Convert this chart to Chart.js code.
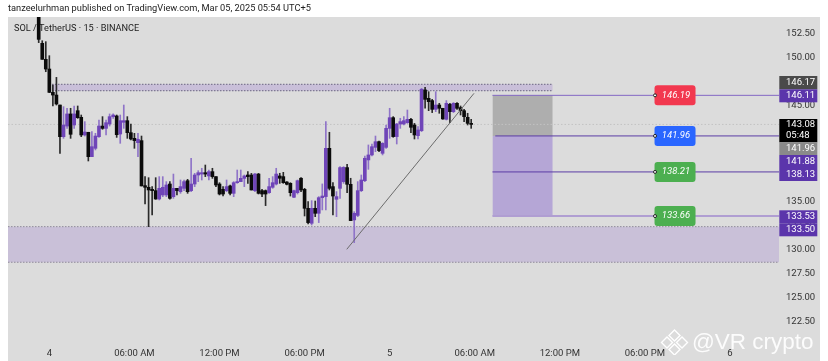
<!DOCTYPE html>
<html>
<head>
<meta charset="utf-8">
<title>SOL / TetherUS</title>
<script src="https://cdn.jsdelivr.net/npm/chart.js@4/dist/chart.umd.min.js"></script>
<style>
    html, body { margin: 0; padding: 0; background: #fff; overflow: hidden; }
    #wrap { position: relative; width: 828px; height: 361px; }
    #chart { position: absolute; left: 0; top: 0; }
    #publisher { position: absolute; left: 8px; top: 1px; font: 9.25px/14px Roboto, sans-serif; color: #222; white-space: nowrap; }
    #watermark { position: absolute; left: 692px; top: 327px; font: 22.5px/30px "Liberation Sans", sans-serif; color: rgba(255,255,255,0.9); white-space: nowrap; }
    #logo { position: absolute; left: 660px; top: 329px; }
</style>
</head>
<body>
<div id="wrap">
    <canvas id="chart" width="828" height="361"></canvas>
    <div id="publisher">tanzeelurhman published on TradingView.com, Mar 05, 2025 05:54 UTC+5</div>
    <svg id="logo" width="29" height="26" viewBox="0 0 29 26" fill="none" stroke="#fff" stroke-width="1.4">
        <path d="M14.5 1 L20 6.5 L14.5 12 L9 6.5 Z"/>
        <path d="M7 8 L12.5 13.5 L7 19 L1.5 13.5 Z"/>
        <path d="M22 8 L27.5 13.5 L22 19 L16.5 13.5 Z"/>
        <path d="M14.5 15 L20 20.5 L14.5 26 L9 20.5 Z"/>
    </svg>
    <div id="watermark">@VR crypto</div>
</div>
<script>
const chartLegend = 'SOL / TetherUS · 15 · BINANCE';

const candleOpens = [155.0,151.53,149.86,148.85,146.42,146.14,145.10,141.80,142.91,144.17,143.02,144.51,143.82,141.98,142.26,139.72,140.59,141.80,142.91,142.67,143.12,143.89,143.96,142.08,143.30,143.47,142.22,141.63,141.18,141.39,
    136.70,136.53,136.32,136.18,135.31,135.73,135.73,136.87,135.55,136.42,136.07,136.42,137.22,136.18,136.87,137.81,137.91,138.05,137.71,138.16,137.64,136.87,136.32,136.18,136.67,135.90,137.01,137.12,137.46,137.81,
    137.81,136.18,137.91,136.18,136.18,135.97,136.53,136.87,137.71,137.64,137.08,136.94,135.49,135.97,137.47,136.32,134.34,132.78,134.34,133.82,135.45,135.56,140.59,136.60,135.28,136.42,137.12,138.58,136.84,133.13,
    133.60,136.18,137.22,139.38,139.90,140.69,141.28,140.07,140.69,142.67,143.78,141.81,143.12,143.12,143.26,143.61,143.02,141.91,142.43,146.67,145.80,145.56,144.65,145.10,144.76,143.61,145.17,144.41,145.28,144.83,
    144.51,143.82,143.19];
const candleCloses = [151.94,149.86,148.85,146.42,146.14,145.21,141.80,143.02,144.17,142.05,144.17,143.78,141.98,142.29,139.72,140.76,141.87,142.91,142.67,143.26,143.89,144.06,142.01,143.47,143.47,142.22,141.56,141.39,141.53,136.67,
    136.53,136.25,136.18,135.31,136.42,136.53,136.77,135.38,136.42,136.18,136.60,137.12,136.07,136.87,137.81,138.05,138.05,137.91,138.16,137.64,136.77,135.83,135.83,136.60,135.90,137.01,137.12,137.46,137.71,137.64,
    136.25,137.91,135.90,135.83,135.83,136.60,137.01,137.91,137.47,137.01,136.84,135.97,136.18,137.22,136.25,134.34,132.85,134.34,133.82,135.45,135.62,140.59,136.42,135.62,135.56,138.58,138.61,136.84,133.06,133.82,
    136.18,137.29,139.55,139.90,140.76,141.28,140.35,141.11,142.67,143.78,141.81,143.12,143.37,143.47,143.61,142.78,141.98,142.50,146.74,145.69,145.45,144.65,145.10,144.76,143.65,145.28,144.41,145.28,144.76,144.51,
    143.89,143.19,143.08];
const candleHighs = [155.2,151.80,151.70,150.24,147.19,147.98,145.10,144.93,144.76,144.76,145.00,145.00,144.06,143.37,142.26,142.33,142.15,143.54,143.89,143.54,144.17,144.17,144.06,144.06,145.10,143.89,143.12,142.15,142.15,141.87,
    137.64,137.53,136.60,137.53,137.64,137.64,137.12,137.12,137.91,136.42,137.29,137.29,137.36,139.55,137.98,138.26,138.51,138.85,138.33,138.51,137.64,137.01,136.60,137.29,136.77,137.12,138.33,138.33,137.81,138.16,
    137.98,137.98,137.98,136.32,136.25,137.46,137.64,138.51,137.99,138.09,137.12,137.01,136.25,137.29,137.53,136.42,135.03,135.14,135.10,135.56,136.88,143.37,142.26,137.01,136.08,138.68,138.68,138.92,137.47,133.99,
    137.12,137.81,139.79,140.94,141.04,141.87,141.35,141.18,143.02,144.76,143.89,143.19,143.72,143.89,144.58,143.72,143.19,142.85,146.84,146.94,146.49,145.69,146.49,145.28,144.76,145.56,145.28,145.35,145.35,145.00,
    144.65,144.24,143.61];
const candleLows = [151.60,149.86,148.57,146.39,145.00,145.10,140.07,141.63,142.67,141.63,142.67,143.71,141.80,141.87,139.27,139.72,140.42,141.73,142.57,141.98,142.91,143.71,141.73,141.11,142.67,141.63,141.46,140.59,139.72,136.67,
    134.79,132.43,133.64,135.28,135.21,135.55,135.55,135.28,135.38,135.73,135.90,136.18,135.90,136.07,136.60,137.12,137.29,137.64,137.29,137.46,136.60,135.73,135.62,136.07,135.73,135.55,136.94,137.12,136.60,136.94,
    136.25,136.07,135.83,135.55,134.62,135.90,136.42,136.77,136.94,136.94,136.77,135.62,135.45,135.83,136.08,133.54,132.71,132.60,133.47,132.85,134.17,134.17,136.25,133.65,133.47,135.38,136.94,135.97,133.06,130.76,
    133.47,136.08,137.12,138.40,139.79,140.24,140.24,139.90,140.59,141.63,141.74,141.04,142.67,143.02,143.19,142.22,141.56,141.56,142.33,144.76,144.51,144.31,144.41,144.24,143.61,143.54,143.26,144.31,144.65,144.06,
    143.37,143.02,142.67];

const lastPrice = 143.08;
const tradeLevels = [146.11, 141.88, 138.13, 133.53];
const pillLabels = ['146.19', '141.96', '138.21', '133.66'];
const topZone = [147.26, 146.59];
const bottomZone = [132.43, 128.72];
const stopBox = [146.11, 141.88];
const targetBox = [141.88, 133.53];
const trendX = [86.9, 122.8];
const trendY = [130.07, 146.32];

const priceTicks = [122.5, 125, 127.5, 130, 132.5, 135, 137.5, 140, 142.5, 145, 147.5, 150, 152.5];
const timeTicks = [3, 27, 51, 75, 99, 123, 147, 171, 195];
const timeLabels = ['4', '06:00 AM', '12:00 PM', '06:00 PM', '5', '06:00 AM', '12:00 PM', '06:00 PM', '6'];

const tagLabels = ['146.17', '146.11', '143.08', '05:48', '141.96', '141.88', '138.13', '133.53', '133.50'];

const AXIS_FONT = 'Roboto, sans-serif';
const X_MIN = -8.66, X_MAX = 208.83;
const UP = '#6f45b8', DOWN = '#0b0b0b', UP_WICK = '#8f74c8', DOWN_WICK = '#2a2a2a';
const indexes = candleOpens.map((_, i) => i);
const isUp = i => candleCloses[i] >= candleOpens[i];
const candleColors = indexes.map(i => isUp(i) ? UP : DOWN);
const wickColors = indexes.map(i => isUp(i) ? UP_WICK : DOWN_WICK);

// filled box between two prices, dotted edges when an edge colour is given
function band(x0, x1, range, fill, edge) {
    const sets = [{
        type: 'line', order: 5, pointRadius: 0, borderWidth: edge ? 1 : 0,
        borderColor: edge || 'transparent', borderDash: [1.5, 1.5], backgroundColor: fill,
        fill: { target: { value: range[1] } },
        data: [{ x: x0, y: range[0] }, { x: x1, y: range[0] }]
    }];
    if (edge) {
        sets.push(flatLine(x0, x1, range[1], edge, 1, [1.5, 1.5], 4));
    }
    return sets;
}

function flatLine(x0, x1, y, color, width, dash, order) {
    return {
        type: 'line', order: order, pointRadius: 0, borderWidth: width, borderColor: color,
        borderDash: dash, fill: false,
        data: [{ x: x0, y: y }, { x: x1, y: y }]
    };
}

const backdrop = {
    id: 'backdrop',
    beforeDraw(chart) {
        const ctx = chart.ctx;
        ctx.save();
        ctx.fillStyle = '#dcdcdc';
        ctx.fillRect(8, 17, 812, 344);
        ctx.restore();
    },
    beforeDatasetsDraw(chart) {
        const ctx = chart.ctx;
        ctx.save();
        ctx.font = '9.2px ' + AXIS_FONT;
        ctx.fillStyle = '#222';
        ctx.textBaseline = 'middle';
        ctx.fillText(chartLegend, 14, 29);
        ctx.restore();
    }
};

const pills = {
    id: 'pills',
    afterDatasetsDraw(chart) {
        const ctx = chart.ctx;
        const colors = ['#f2384f', '#2a66ff', '#4caf50', '#4caf50'];
        const cx = chart.scales.x.getPixelForValue(179.5);
        ctx.save();
        tradeLevels.forEach((level, i) => {
            const cy = chart.scales.y.getPixelForValue(level);
            ctx.fillStyle = colors[i];
            ctx.beginPath();
            ctx.roundRect(cx - 20.5, cy - 10, 41, 20, 3);
            ctx.fill();
            ctx.fillStyle = '#fff';
            ctx.strokeStyle = '#222';
            ctx.beginPath();
            ctx.arc(cx - 20, cy, 1.5, 0, Math.PI * 2);
            ctx.fill();
            ctx.stroke();
            ctx.font = 'italic 9.5px ' + AXIS_FONT;
            ctx.textAlign = 'center';
            ctx.textBaseline = 'middle';
            ctx.fillText(pillLabels[i], cx + 1, cy);
        });
        ctx.restore();
    }
};

// price tags sit on top of the axis, pushed apart the way TradingView stacks them
const priceTags = {
    id: 'priceTags',
    afterDraw(chart) {
        const ctx = chart.ctx;
        const boxes = [
            [76, 13.3, '#4a4a4a'], [89.3, 13, '#5b35ab'], [119, 23.3, '#000'],
            [142.3, 12.7, '#8a8a8a'], [155, 13, '#5b35ab'], [168, 13, '#5b35ab'],
            [210.3, 13, '#5b35ab'], [223.3, 13, '#5b35ab']
        ];
        const centers = [82.7, 95.7, 125, 136, 148.7, 161.7, 175, 217, 230];
        ctx.save();
        boxes.forEach(b => {
            ctx.fillStyle = b[2];
            ctx.fillRect(779.3, b[0], 38, b[1]);
        });
        ctx.font = '9.5px ' + AXIS_FONT;
        ctx.textAlign = 'left';
        ctx.textBaseline = 'middle';
        ctx.fillStyle = '#fff';
        tagLabels.forEach((label, i) => ctx.fillText(label, 786, centers[i]));
        ctx.restore();
    }
};

new Chart(document.getElementById('chart'), {
    type: 'bar',
    data: {
        datasets: [
            ...band(3.75, 145, topZone, '#c9bfd9', '#6a6580'),
            ...band(X_MIN, X_MAX, bottomZone, '#c9c0d8', '#8f8b9a'),
            ...band(128, 145, stopBox, '#aeaeae'),
            ...band(128, 145, targetBox, '#b5a6d6'),
            flatLine(X_MIN, X_MAX, lastPrice, '#c2c2c2', 1, [1.5, 2], 4),
            flatLine(128, X_MAX, tradeLevels[0], '#8468c4', 1, [], 3),
            flatLine(128.8, X_MAX, tradeLevels[1], '#5a3ca6', 1, [], 3),
            flatLine(128, X_MAX, tradeLevels[2], '#5a3ca6', 1, [], 3),
            flatLine(128, X_MAX, tradeLevels[3], '#b09ed2', 2, [], 3),
            {
                grouped: false, order: 2, barThickness: 1, backgroundColor: wickColors,
                data: indexes.map(i => ({ x: i, y: [candleLows[i], candleHighs[i]] }))
            },
            {
                grouped: false, order: 1, barThickness: 3, backgroundColor: candleColors,
                data: indexes.map(i => ({ x: i, y: [candleOpens[i], candleCloses[i]] }))
            },
            {
                type: 'line', order: 0, pointRadius: 0, borderWidth: 1, borderColor: '#6c6c6c', fill: false,
                data: trendX.map((x, i) => ({ x: x, y: trendY[i] }))
            }
        ]
    },
    options: {
        responsive: false,
        animation: false,
        events: [],
        layout: { padding: { left: 8, top: 17, right: 0, bottom: 0 } },
        plugins: { legend: { display: false }, tooltip: { enabled: false } },
        scales: {
            x: {
                type: 'linear', min: X_MIN, max: X_MAX, offset: false,
                grid: { display: false, drawTicks: false }, border: { display: false },
                afterFit(scale) { scale.height = 16; scale.paddingLeft = 0; scale.paddingRight = 0; },
                afterBuildTicks(scale) { scale.ticks = timeTicks.map(v => ({ value: v })); },
                ticks: {
                    autoSkip: false, maxRotation: 0, padding: 3, color: '#333',
                    font: { family: AXIS_FONT, size: 9.5 },
                    callback: value => timeLabels[timeTicks.indexOf(value)]
                }
            },
            y: {
                type: 'linear', position: 'right', min: 120.1, max: 154.27,
                grid: { display: false, drawTicks: false }, border: { display: false },
                afterFit(scale) { scale.width = 49; scale.paddingTop = 0; scale.paddingBottom = 0; },
                afterBuildTicks(scale) { scale.ticks = priceTicks.map(v => ({ value: v })); },
                ticks: {
                    autoSkip: false, padding: 7, color: '#333',
                    font: { family: AXIS_FONT, size: 9.5 },
                    callback: value => value.toFixed(2)
                }
            }
        }
    },
    plugins: [backdrop, pills, priceTags]
});
</script>
</body>
</html>
